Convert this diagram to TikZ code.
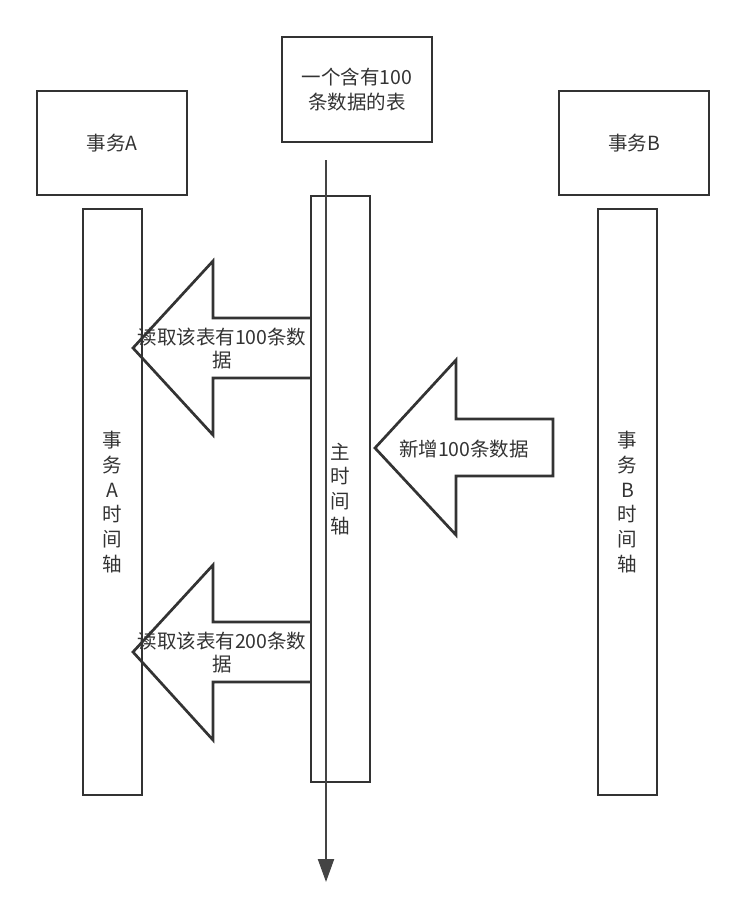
\documentclass[tikz,border=0pt]{standalone}
\usepackage{fontspec}
\setmainfont{Noto Sans CJK SC}
\usetikzlibrary{arrows.meta}
\definecolor{ln}{HTML}{333333}
\definecolor{axis}{HTML}{444444}
\begin{document}
\begin{tikzpicture}[x=1pt,y=-1pt,
  box/.style={draw=ln, line width=2.7pt, inner sep=0pt, text=ln, font=\fontsize{19.5}{24.8}\selectfont, align=center},
  blk/.style={draw=ln, line width=2.7pt, line join=miter, fill=white},
  lbl/.style={text=ln, font=\fontsize{19.5}{23}\selectfont, align=center, inner sep=0pt}]
\useasboundingbox (0,0) rectangle (747,911);
% header boxes
\node[box, minimum width=150pt, minimum height=105pt] (tbl) at (357,89.5) {一个含有100\\条数据的表};
\node[box, minimum width=150pt, minimum height=104pt] (ta) at (112,143) {事务A};
\node[box, minimum width=150pt, minimum height=104pt] (tb) at (634,143) {事务B};
% block arrows (drawn first)
\draw[blk] (310,318) -- (213,318) -- (213,261) -- (133,348) -- (213,435) -- (213,378) -- (310,378);
\draw[blk] (553,419) -- (456,419) -- (456,360) -- (375,448) -- (456,535) -- (456,476) -- (553,476) -- cycle;
\draw[blk] (310,622) -- (213,622) -- (213,565) -- (133,652) -- (213,740) -- (213,682) -- (310,682);
% timelines
\node[box, minimum width=59pt, minimum height=586pt] (la) at (112.5,502) {事\\务\\A\\时\\间\\轴};
\node[box, minimum width=59pt, minimum height=586pt] (lm) at (340.5,489) {主\\时\\间\\轴};
\node[box, minimum width=59pt, minimum height=586pt] (lb) at (627.5,502) {事\\务\\B\\时\\间\\轴};
% main axis arrow
\coordinate (ms) at (326,160);
\coordinate (me) at (326,882);
\draw[draw=axis, line width=2.2pt, -{Triangle[width=16pt,length=23pt]}] (ms) -- (me);
% arrow labels
\node[lbl] (r1) at (222,349) {读取该表有100条数\\据};
\node[lbl] (add) at (464,449) {新增100条数据};
\node[lbl] (r2) at (222,653) {读取该表有200条数\\据};
\end{tikzpicture}
\end{document}
